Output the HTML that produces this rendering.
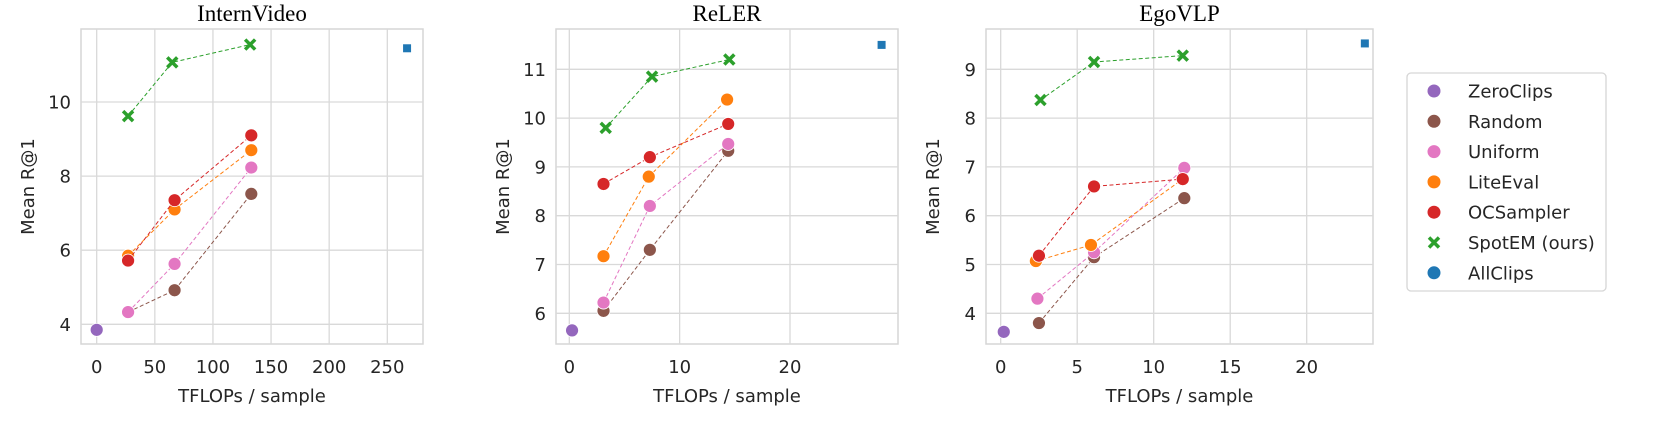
<!DOCTYPE html>
<html><head><meta charset="utf-8"><style>
body{margin:0;background:#fff;}
svg text{font-family:"DejaVu Sans","Liberation Sans",sans-serif;fill:#262626;}
</style></head><body>
<svg id="chart" width="1655" height="428" viewBox="0 0 1655 428" xmlns="http://www.w3.org/2000/svg"></svg>
<script>
const seriesNames=["ZeroClips","Random","Uniform","LiteEval","OCSampler","SpotEM (ours)","AllClips"];
const seriesColors=["#9467bd","#8c564b","#e377c2","#ff7f0e","#d62728","#2ca02c","#1f77b4"];
const panelTitles=["InternVideo","ReLER","EgoVLP"];
const ivX=[[0],[27,67,133],[27,67,133],[27,67,133],[27,67,133],[27,65,132],[267]];
const ivY=[[3.85],[4.33,4.92,7.52],[4.33,5.63,8.23],[5.85,7.1,8.7],[5.72,7.35,9.1],[9.62,11.07,11.55],[11.45]];
const reX=[[0.25],[3.1,7.3,14.4],[3.1,7.3,14.4],[3.1,7.2,14.3],[3.1,7.3,14.4],[3.3,7.5,14.5],[28.3]];
const reY=[[5.65],[6.05,7.3,9.33],[6.22,8.2,9.47],[7.17,8.8,10.38],[8.65,9.2,9.88],[9.8,10.85,11.2],[11.5]];
const egX=[[0.2],[2.5,6.1,12],[2.4,6.1,12],[2.3,5.9,11.9],[2.5,6.1,11.9],[2.6,6.1,11.9],[23.8]];
const egY=[[3.62],[3.8,5.15,6.36],[4.3,5.25,6.98],[5.07,5.4,6.75],[5.18,6.6,6.75],[8.37,9.15,9.28],[9.53]];
const ivXTicks=[0,50,100,150,200,250], ivYTicks=[4,6,8,10];
const reXTicks=[0,10,20], reYTicks=[6,7,8,9,10,11];
const egXTicks=[0,5,10,15,20], egYTicks=[4,5,6,7,8,9];

const NS="http://www.w3.org/2000/svg";
const svg=document.getElementById('chart');
function mk(tag,attrs,parent){const e=document.createElementNS(NS,tag);for(const k in attrs)e.setAttribute(k,attrs[k]);(parent||svg).appendChild(e);return e;}

const panels=[
 {x0:81,x1:423,xa:[0,96.7],xb:[250,387.3],ya:[10,102],yb:[4,324.3],X:ivX,Y:ivY,xt:ivXTicks,yt:ivYTicks},
 {x0:556,x1:898,xa:[0,569.3],xb:[20,790],ya:[11,69.3],yb:[6,313.3],X:reX,Y:reY,xt:reXTicks,yt:reYTicks},
 {x0:986,x1:1373,xa:[0,1000.7],xb:[20,1306.7],ya:[9,69.3],yb:[4,313.3],X:egX,Y:egY,xt:egXTicks,yt:egYTicks}
];
const plotTop=29,plotBot=344;
panels.forEach((p,pi)=>{
 const g=mk('g',{});
 
 
 const sx=v=>p.xa[1]+(v-p.xa[0])*(p.xb[1]-p.xa[1])/(p.xb[0]-p.xa[0]);
 const sy=v=>p.ya[1]+(v-p.ya[0])*(p.yb[1]-p.ya[1])/(p.yb[0]-p.ya[0]);
 const bg=mk('rect',{x:p.x0,y:plotTop,width:p.x1-p.x0,height:plotBot-plotTop,fill:'#fff',stroke:'#d6d6d6','stroke-width':1.5},g);
 
 
 p.xt.forEach(t=>{
  const l=mk('line',{x1:sx(t),x2:sx(t),y1:plotTop,y2:plotBot,stroke:'#d9d9d9','stroke-width':1.3},g);
  
  
  const tx=mk('text',{x:sx(t),y:373,'text-anchor':'middle','font-size':18},g);tx.textContent=t;
  
  
 });
 p.yt.forEach(t=>{
  const l=mk('line',{x1:p.x0,x2:p.x1,y1:sy(t),y2:sy(t),stroke:'#d9d9d9','stroke-width':1.3},g);
  
  
  const tx=mk('text',{x:p.x0-10,y:sy(t)+6.5,'text-anchor':'end','font-size':18},g);tx.textContent=t;
  
  
 });
 const ti=mk('text',{x:(p.x0+p.x1)/2,y:21,'text-anchor':'middle','font-size':23,style:'font-family:"Liberation Serif",serif;fill:#000'},g);ti.textContent=panelTitles[pi];
 
 
 const xl=mk('text',{x:(p.x0+p.x1)/2,y:402,'text-anchor':'middle','font-size':18},g);xl.textContent='TFLOPs / sample';
 
 
 const ylx=p.x0-47;
 const yl=mk('text',{x:ylx,y:(plotTop+plotBot)/2,'text-anchor':'middle','font-size':18,transform:`rotate(-90 ${ylx} ${(plotTop+plotBot)/2})`},g);yl.textContent='Mean R@1';
 
 
 p.X.forEach((xs,si)=>{
  const c=seriesColors[si];
  if(xs.length>1){
   const pts=xs.map((x,i)=>sx(x)+','+sy(p.Y[si][i])).join(' ');
   const pl=mk('polyline',{points:pts,fill:'none',stroke:c,'stroke-width':1,'stroke-dasharray':'4,2.5'},g);
   
   
  }
  xs.forEach((x,i)=>{
   const cx=sx(x),cy=sy(p.Y[si][i]);let m;
   if(si===5){m=mk('path',{d:`M${cx-5},${cy-5}L${cx+5},${cy+5}M${cx-5},${cy+5}L${cx+5},${cy-5}`,stroke:c,'stroke-width':3.5},g);}
   else if(si===6){m=mk('rect',{x:cx-4,y:cy-4,width:8,height:8,fill:c},g);}
   else{m=mk('circle',{cx:cx,cy:cy,r:6.5,fill:c,stroke:'#fff','stroke-width':0.8},g);}
   
   
  });
 });
});
const lg=mk('g',{});


const lb=mk('rect',{x:1407,y:73,width:199,height:218,rx:4,fill:'#fff',stroke:'#d6d6d6','stroke-width':1.3},lg);


seriesNames.forEach((n,i)=>{
 const y=91+i*30.3,c=seriesColors[i];let m;
 if(i===5)m=mk('path',{d:`M1429,${y-5}L1439,${y+5}M1429,${y+5}L1439,${y-5}`,stroke:c,'stroke-width':3.5},lg);
 else m=mk('circle',{cx:1434,cy:y,r:6.5,fill:c},lg);
 
 
 const t=mk('text',{x:1468,y:y+6.5,'font-size':18},lg);t.textContent=n;
 
 
});
</script>
</body></html>
